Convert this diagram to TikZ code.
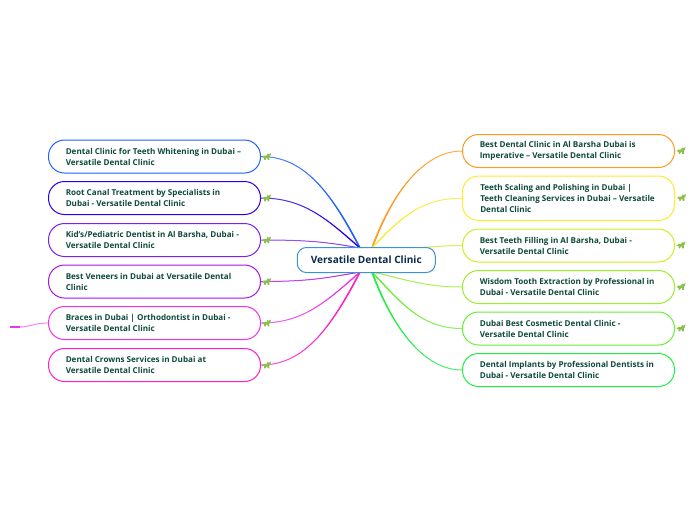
\documentclass[tikz,border=0pt]{standalone}
\usepackage{fontspec}
\setmainfont{Open Sans}
\usetikzlibrary{backgrounds,calc}
\definecolor{ctext}{HTML}{0F4A3C}
\definecolor{hubtext}{HTML}{0B2A50}
\definecolor{hubline}{HTML}{3C93D2}
\definecolor{cA}{HTML}{1F63FF}
\definecolor{cB}{HTML}{2A00EE}
\definecolor{cC}{HTML}{7B22F0}
\definecolor{cD}{HTML}{AA11EE}
\definecolor{cE}{HTML}{EE33EE}
\definecolor{cF}{HTML}{FF1FC8}
\definecolor{cG}{HTML}{FF9A1F}
\definecolor{cH}{HTML}{FFEA2E}
\definecolor{cI}{HTML}{CDEE22}
\definecolor{cJ}{HTML}{9CEE30}
\definecolor{cK}{HTML}{66EE33}
\definecolor{cL}{HTML}{22EE44}
\definecolor{leaf}{HTML}{8CC04A}
\tikzset{
  topic/.style={draw=#1,fill=white,line width=1pt,rounded corners=16pt,minimum width=212pt,
    inner xsep=0pt,inner ysep=0pt,text=ctext,font=\bfseries\fontsize{8.1}{11}\selectfont,
    align=left,anchor=north west},
  hub/.style={draw=hubline,fill=white,line width=1pt,rounded corners=9pt,minimum width=138pt,
    minimum height=25pt,text=hubtext,font=\bfseries\fontsize{10.1}{12}\selectfont},
  leafmark/.style={fill=leaf,draw=none},
  link/.style={line width=1pt,#1!75!white},
}
% colour, hub, offset control 1, offset control 2, end
\newcommand{\conn}[5]{%
  \draw[link=#1] (#2) .. controls +#3 and +#4 .. (#5);
  \fill[#1] ([xshift=-.9pt]#2) .. controls +#3 and +#4 .. (#5)
     .. controls +#4 and +#3 .. ([xshift=.9pt]#2) -- cycle;
}
\newcommand{\tick}[2]{%
  \fill[leafmark] (#1,#2) ++(-4.5,0.8) -- ++(2,-1.8) -- ++(2.5,0) -- ++(1,-2) -- ++(1,.8)
     -- ++(2.5,-1.3) -- ++(-.6,2.6) -- ++(-1,1.2) -- ++(0,3) -- ++(-1.6,0) -- ++(-.4,-1.6) -- ++(-1.2,0)
     -- ++(-.5,1.6) -- ++(-1.4,0) -- ++(-.2,-2) -- cycle;
}
\newcommand{\topicbox}[7]{% name, colour, x, y, height, text xshift, text
  \node[topic=#2,minimum height=#5pt] (#1) at (#3,#4) {\hspace*{#6pt}\parbox[c]{193pt}{\raggedright #7}};
}
\begin{document}
\begin{tikzpicture}[x=1pt,y=-1pt]
\useasboundingbox (0,0) rectangle (696,520);
\node[hub] (center) at (366.3,260) {Versatile Dental Clinic};
\coordinate (hubTL) at (360,248);
\coordinate (hubBL) at (360,272);
\coordinate (hubTR) at (372,248);
\coordinate (hubBR) at (372,272);
\coordinate (foldEnd) at (20,327);
\coordinate (foldTip) at (10,327);

\topicbox{l1}{cA}{48}{139.5}{33}{15.5}{Dental Clinic for Teeth Whitening in Dubai –\\Versatile Dental Clinic}
\topicbox{l2}{cB}{48}{181}{33}{15.5}{Root Canal Treatment by Specialists in\\Dubai - Versatile Dental Clinic}
\topicbox{l3}{cC}{48}{223}{33}{15.5}{Kid's/Pediatric Dentist in Al Barsha, Dubai -\\Versatile Dental Clinic}
\topicbox{l4}{cD}{48}{264.5}{33}{15.5}{Best Veneers in Dubai at Versatile Dental\\Clinic}
\topicbox{l5}{cE}{48}{306}{33}{15.5}{Braces in Dubai | Orthodontist in Dubai -\\Versatile Dental Clinic}
\topicbox{l6}{cF}{48}{348}{33}{15.5}{Dental Crowns Services in Dubai at\\Versatile Dental Clinic}

\topicbox{r1}{cG}{462}{134}{33}{15.5}{Best Dental Clinic in Al Barsha Dubai is\\Imperative – Versatile Dental Clinic}
\topicbox{r2}{cH}{462}{175.5}{44.5}{16.5}{Teeth Scaling and Polishing in Dubai |\\Teeth Cleaning Services in Dubai – Versatile\\Dental Clinic}
\topicbox{r3}{cI}{462}{228.5}{33}{15.5}{Best Teeth Filling in Al Barsha, Dubai -\\Versatile Dental Clinic}
\topicbox{r4}{cJ}{462}{270}{33}{15.5}{Wisdom Tooth Extraction by Professional in\\Dubai - Versatile Dental Clinic}
\topicbox{r5}{cK}{462}{311.5}{33}{15.5}{Dubai Best Cosmetic Dental Clinic -\\Versatile Dental Clinic}
\topicbox{r6}{cL}{462}{353}{33}{15.5}{Dental Implants by Professional Dentists in\\Dubai - Versatile Dental Clinic}

\begin{scope}[on background layer]
\fill[white] (0,0) rectangle (696,520);
\conn{cA}{hubTL}{(-30,-58)}{(42,0)}{l1.east}
\conn{cB}{hubTL}{(-34,-30)}{(42,0)}{l2.east}
\conn{cC}{hubTL}{(-34,-6)}{(48,0)}{l3.east}
\conn{cD}{hubBL}{(-34,6)}{(48,0)}{l4.east}
\conn{cE}{hubBL}{(-34,30)}{(42,0)}{l5.east}
\conn{cF}{hubBL}{(-30,58)}{(42,0)}{l6.east}
\conn{cG}{hubTR}{(22,-60)}{(-36,0)}{r1.west}
\conn{cH}{hubTR}{(30,-32)}{(-40,0)}{r2.west}
\conn{cI}{hubTR}{(40,2)}{(-30,0)}{r3.west}
\conn{cJ}{hubBR}{(30,6)}{(-40,0)}{r4.west}
\conn{cK}{hubBR}{(30,32)}{(-40,0)}{r5.west}
\conn{cL}{hubBR}{(22,60)}{(-36,0)}{r6.west}
\draw[line width=1pt,cE!60!white] (l5.west) .. controls +(-14,0) and +(10,0) .. (foldEnd);
\draw[line width=1.2pt,cE] (foldEnd) -- (foldTip);
\end{scope}

\tick{266.5}{156.5}
\tick{266.5}{198}
\tick{266.5}{240}
\tick{266.5}{281.5}
\tick{266.5}{323}
\tick{266.5}{365}
\tick{681}{150.5}
\tick{681.5}{197.5}
\tick{681}{245}
\tick{681}{286.5}
\tick{681}{328}
\end{tikzpicture}
\end{document}
